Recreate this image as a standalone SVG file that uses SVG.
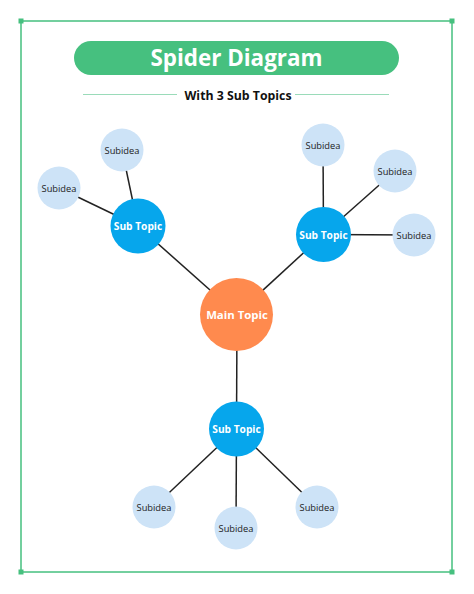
<svg xmlns="http://www.w3.org/2000/svg" width="474" height="594" viewBox="0 0 474 594">
<style>
.sub{fill:#CDE3F7}
.st{fill:#06A6EC}
.t{font-family:"Open Sans","Noto Sans",sans-serif;text-anchor:middle;dominant-baseline:central}
.si{font-size:9.3px;fill:#222}
.stt{font-size:10.2px;font-weight:bold;fill:#fff}
.con line{stroke:#222;stroke-width:1.5}
.corner{fill:#46C07F}
</style>
<rect width="474" height="594" fill="#fff"/>
<g id="frame">
<rect x="21" y="21" width="431" height="551" fill="none" stroke="#46C07F" stroke-width="1.5"/>
<rect class="corner" x="18.5" y="18.5" width="5" height="5"/>
<rect class="corner" x="449.5" y="18.5" width="5" height="5"/>
<rect class="corner" x="18.5" y="569.5" width="5" height="5"/>
<rect class="corner" x="449.5" y="569.5" width="5" height="5"/>
</g>
<g id="title">
<rect x="74" y="41" width="325" height="34" rx="17" fill="#46C07F"/>
<text class="t" x="236.5" y="57.5" font-size="22.4" font-weight="bold" fill="#fff">Spider Diagram</text>
</g>
<g id="subtitle">
<line x1="83" y1="94.5" x2="177" y2="94.5" stroke="#9ADBB9" stroke-width="1"/>
<line x1="295" y1="94.5" x2="389" y2="94.5" stroke="#9ADBB9" stroke-width="1"/>
<text class="t" x="238" y="95" font-size="12.3" font-weight="bold" fill="#111">With 3 Sub Topics</text>
</g>
<g id="connectors" class="con">
<line x1="237" y1="314" x2="138" y2="226"/>
<line x1="237" y1="314" x2="323.5" y2="234.5"/>
<line x1="237" y1="314" x2="236.5" y2="429"/>
<line x1="138" y1="226" x2="122" y2="150"/>
<line x1="138" y1="226" x2="59" y2="188"/>
<line x1="323.5" y1="234.5" x2="323" y2="145"/>
<line x1="323.5" y1="234.5" x2="395" y2="171"/>
<line x1="323.5" y1="234.5" x2="414" y2="235"/>
<line x1="236.5" y1="429" x2="154" y2="507"/>
<line x1="236.5" y1="429" x2="236" y2="528"/>
<line x1="236.5" y1="429" x2="317" y2="507"/>
</g>
<g id="main">
<circle cx="236.5" cy="314.5" r="36.5" fill="#FF8A4E"/>
<text class="t" x="237" y="314" font-size="11.4" font-weight="bold" fill="#fff">Main Topic</text>
</g>
<g id="sub1"><circle class="st" cx="138" cy="226" r="27.5"/><text class="t stt" x="138" y="226">Sub Topic</text></g>
<g id="sub2"><circle class="st" cx="323.5" cy="234.5" r="27.5"/><text class="t stt" x="323.5" y="234.5">Sub Topic</text></g>
<g id="sub3"><circle class="st" cx="236.5" cy="429" r="27.5"/><text class="t stt" x="236.5" y="429">Sub Topic</text></g>
<g id="idea1"><circle class="sub" cx="122" cy="150" r="21.5"/><text class="t si" x="122" y="150">Subidea</text></g>
<g id="idea2"><circle class="sub" cx="59" cy="188" r="21.5"/><text class="t si" x="59" y="188">Subidea</text></g>
<g id="idea3"><circle class="sub" cx="323" cy="145" r="21.5"/><text class="t si" x="323" y="145">Subidea</text></g>
<g id="idea4"><circle class="sub" cx="395" cy="171" r="21.5"/><text class="t si" x="395" y="171">Subidea</text></g>
<g id="idea5"><circle class="sub" cx="414" cy="235" r="21.5"/><text class="t si" x="414" y="235">Subidea</text></g>
<g id="idea6"><circle class="sub" cx="154" cy="507" r="21.5"/><text class="t si" x="154" y="507">Subidea</text></g>
<g id="idea7"><circle class="sub" cx="236" cy="528" r="21.5"/><text class="t si" x="236" y="528">Subidea</text></g>
<g id="idea8"><circle class="sub" cx="317" cy="507" r="21.5"/><text class="t si" x="317" y="507">Subidea</text></g>
</svg>
